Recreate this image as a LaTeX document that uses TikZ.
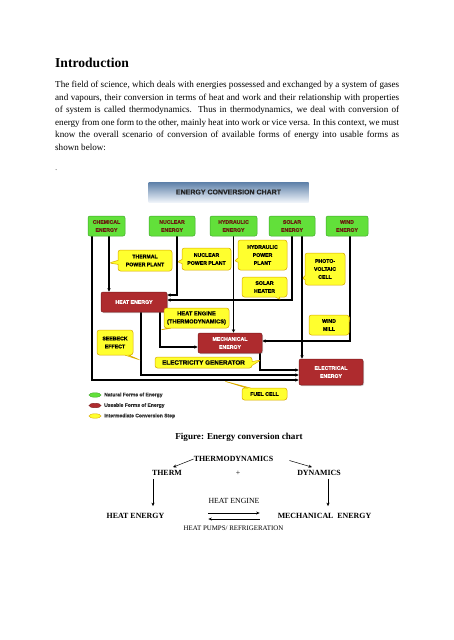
\documentclass[tikz,border=0pt]{standalone}
\usepackage{fontspec}
\setmainfont{Liberation Serif}
\newfontfamily\chartfont{Liberation Sans}[BoldFeatures={FakeBold=0.8}]
\usetikzlibrary{shapes.callouts,shapes.geometric,arrows.meta,shadows}
\pgfdeclarelayer{background}
\pgfsetlayers{background,main}
\definecolor{boxgreen}{HTML}{62E03A}
\definecolor{boxgreenb}{HTML}{3FA82A}
\definecolor{greentext}{HTML}{6A1E10}
\definecolor{callyellow}{HTML}{FFFF2E}
\definecolor{callyellowb}{HTML}{D9A800}
\definecolor{boxred}{HTML}{AE2B2E}
\definecolor{boxredb}{HTML}{7C1A1C}
\definecolor{titletop}{HTML}{5C7FA8}
\definecolor{titlemid}{HTML}{BCCDE2}
\definecolor{titlebot}{HTML}{EEF3F9}
\begin{document}
\begin{tikzpicture}[x=1pt,y=-1pt,
  every node/.style={inner sep=0pt},
  bodytext/.style={anchor=base west, font=\fontsize{9.1}{11}\selectfont},
  chartlbl/.style={font=\chartfont\bfseries\fontsize{5.2}{8}\selectfont},
  natural/.style={chartlbl, draw=boxgreenb, fill=boxgreen, line width=0.5pt, rounded corners=2pt, text=greentext, align=center, minimum height=20pt},
  useable/.style={chartlbl, draw=boxredb, fill=boxred, line width=0.5pt, rounded corners=2pt, text=white, align=center, drop shadow={shadow xshift=1pt, shadow yshift=-1pt, opacity=0.35}},
  interm/.style={chartlbl, rectangle callout, draw=callyellowb, fill=callyellow, line width=0.5pt, rounded corners=2.5pt, text=black, align=center, callout pointer width=4pt},
  legendtxt/.style={anchor=west, font=\chartfont\bfseries\fontsize{5}{6}\selectfont, text=black!80},
  conn/.style={line width=1.2pt, -{Stealth[length=3.5pt,width=3.2pt]}},
  bdbold/.style={font=\bfseries\fontsize{7.9}{9}\selectfont},
  bdreg/.style={font=\fontsize{7.8}{9}\selectfont},
  thinarr/.style={line width=0.5pt, -{Stealth[length=3.5pt,width=3pt]}}]
\begin{pgfonlayer}{background}
\fill[white] (0,0) rectangle (453,640);
\end{pgfonlayer}
\useasboundingbox (0,0) rectangle (453,640);

% ---------- heading and paragraph ----------
\node[anchor=base west, font=\bfseries\fontsize{13.6}{16}\selectfont] (intro) at (55,67) {Introduction};
\node[bodytext] (l1) at (55,87.5) {\makebox[344pt][s]{The field of science, which deals with energies possessed and exchanged by a system of gases}};
\node[bodytext] (l2) at (55,100) {\makebox[344pt][s]{and vapours, their conversion in terms of heat and work and their relationship with properties}};
\node[bodytext] (l3) at (55,112.5) {\makebox[344pt][s]{of system is called thermodynamics. Thus in thermodynamics, we deal with conversion of}};
\node[bodytext] (l4) at (55,125) {\makebox[344pt][s]{energy from one form to the other, mainly heat into work or vice versa. In this context, we must}};
\node[bodytext] (l5) at (55,137.5) {\makebox[344pt][s]{know the overall scenario of conversion of available forms of energy into usable forms as}};
\node[bodytext] (l6) at (55,150) {shown below:};
\node[bodytext, text=black!60] (dot) at (55,170) {.};

% ---------- chart ----------
\node[minimum width=160pt, minimum height=20pt, top color=titletop, middle color=titlemid, bottom color=titlebot,
      font=\chartfont\bfseries\fontsize{7}{8}\selectfont, text=black!85] (title) at (228.5,192) {ENERGY CONVERSION CHART};

\node[natural, minimum width=37pt] (chem) at (106.5,226) {CHEMICAL\\ENERGY};
\node[natural, minimum width=46pt] (nucl) at (172,226) {NUCLEAR\\ENERGY};
\node[natural, minimum width=47pt] (hydr) at (233.5,226) {HYDRAULIC\\ENERGY};
\node[natural, minimum width=46pt] (solar) at (292,226) {SOLAR\\ENERGY};
\node[natural, minimum width=42pt] (wind) at (347,226) {WIND\\ENERGY};

\node[useable, minimum width=66pt, minimum height=20pt] (heat) at (134,302) {HEAT ENERGY};
\node[useable, minimum width=64pt, minimum height=20pt] (mech) at (230,343) {MECHANICAL\\ENERGY};
\node[useable, minimum width=64pt, minimum height=26pt] (elec) at (331,372) {ELECTRICAL\\ENERGY};

\node[interm, minimum width=54pt, minimum height=21pt, callout absolute pointer={(109,263)}] (thermal) at (145,260.5) {THERMAL\\POWER PLANT};
\node[interm, minimum width=49pt, minimum height=22pt, callout absolute pointer={(177,262)}] (nuclpp) at (206.5,259) {NUCLEAR\\POWER PLANT};
\node[interm, minimum width=49pt, minimum height=30pt, callout absolute pointer={(234,261)}] (hydpp) at (262.5,255) {HYDRAULIC\\POWER\\PLANT};
\node[interm, minimum width=45pt, minimum height=20pt, callout absolute pointer={(281,300)}] (solheat) at (264.5,287) {SOLAR\\HEATER};
\node[interm, minimum width=40pt, minimum height=32pt, callout absolute pointer={(302,279)}] (pv) at (325,269) {PHOTO-\\VOLTAIC\\CELL};
\node[interm, minimum width=65pt, minimum height=20pt, font=\chartfont\bfseries\fontsize{5.7}{8}\selectfont, callout absolute pointer={(160,330)}] (heateng) at (196.5,318) {HEAT ENGINE\\(THERMODYNAMICS)};
\node[interm, minimum width=36pt, minimum height=25pt, callout absolute pointer={(140,360)}] (seebeck) at (115,342.5) {SEEBECK\\EFFECT};
\node[interm, minimum width=97pt, minimum height=11pt, font=\chartfont\bfseries\fontsize{6.3}{8}\selectfont, callout absolute pointer={(261,360)}] (elecgen) at (203.5,362.5) {ELECTRICITY GENERATOR};
\node[interm, minimum width=40pt, minimum height=20pt, callout absolute pointer={(350,316)}] (windmill) at (329,325) {WIND\\MILL};
\node[interm, minimum width=45pt, minimum height=12pt, callout absolute pointer={(224,381)}] (fuelcell) at (264.5,394) {FUEL CELL};

\begin{pgfonlayer}{background}
\draw[conn] ([xshift=-14.5pt]chem.south) |- ([yshift=-8pt]elec.west);
\draw[conn] ([xshift=2.5pt]chem.south) -- ([xshift=2.5pt]chem.south |- heat.north);
\draw[conn] ([xshift=5pt]nucl.south) |- ([yshift=7pt]heat.east);
\draw[conn] (hydr.south) -- (hydr.south |- mech.north);
\draw[conn] (solar.south) |- ([yshift=2pt]heat.east);
\draw[conn] ([xshift=10pt]solar.south) -- ([xshift=10pt]solar.south |- elec.north);
\draw[conn] ([xshift=3pt]wind.south) |- ([yshift=2pt]mech.east);
\draw[conn] ([xshift=26pt]heat.south) |- ([yshift=-4pt]mech.west);
\draw[conn] ([xshift=7pt]heat.south) |- ([yshift=-3pt]elec.west);
\draw[conn] ([xshift=30pt]mech.south) |- ([yshift=2pt]elec.west);
\end{pgfonlayer}

% legend
\node[ellipse, draw=boxgreenb, fill=boxgreen, line width=0.4pt, minimum width=12pt, minimum height=4.5pt] (lg1) at (95,395) {};
\node[legendtxt] (lt1) at (104,395) {Natural Forms of Energy};
\node[ellipse, draw=boxredb, fill=boxred, line width=0.4pt, minimum width=12pt, minimum height=4.5pt] (lg2) at (95,405.5) {};
\node[legendtxt] (lt2) at (104,405.5) {Useable Forms of Energy};
\node[ellipse, draw=callyellowb, fill=callyellow, line width=0.4pt, minimum width=12pt, minimum height=4.5pt] (lg3) at (95,416) {};
\node[legendtxt] (lt3) at (104,416) {Intermediate Conversion Step};

% caption
\node[font=\bfseries\fontsize{9.1}{11}\selectfont] (cap) at (239,437) {Figure: Energy conversion chart};

% ---------- bottom diagram ----------
\node[bdbold] (thermo) at (233.5,459) {THERMODYNAMICS};
\node[bdbold, inner ysep=3pt] (therm) at (167,473) {THERM};
\node[bdreg] (plus) at (238,473) {+};
\node[bdbold, inner ysep=3pt] (dyn) at (319,473) {DYNAMICS};
\node[bdbold, inner ysep=7pt] (heatE) at (135.5,516) {HEAT ENERGY};
\node[bdbold, inner ysep=7pt] (mechE) at (324.5,516) {MECHANICAL\ \ ENERGY};
\node[bdreg] (engine) at (234,501) {HEAT ENGINE};
\node[font=\fontsize{6.9}{8}\selectfont] (pumps) at (233.5,528) {HEAT PUMPS/ REFRIGERATION};

\draw[thinarr] (thermo.west) -- ([xshift=6pt]therm.north);
\draw[thinarr] ([xshift=16pt,yshift=-1.5pt]thermo.east) -- ([xshift=-7pt]dyn.north);
\draw[thinarr] ([xshift=-14pt]therm.south) -- ([xshift=-14pt]therm.south |- heatE.north);
\draw[thinarr] ([xshift=9pt]dyn.south) -- ([xshift=9pt]dyn.south |- mechE.north);
\draw[thinarr] ([yshift=-12pt]engine.west) -- ([yshift=-12pt]engine.east);
\draw[thinarr] ([yshift=9pt]pumps.center -| engine.east) -- ([yshift=9pt]pumps.center -| engine.west);
\end{tikzpicture}
\end{document}
